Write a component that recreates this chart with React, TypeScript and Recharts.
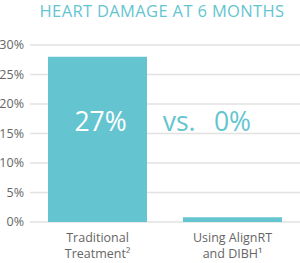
import React from 'react';
import { BarChart, Bar, XAxis, YAxis, CartesianGrid, ReferenceDot } from 'recharts';

const categories = ['Traditional|Treatment²', 'Using AlignRT|and DIBH¹'];
const values = [28, 0.8];
const valueLabels = ['27%', '0%'];
const yTicks = [0, 5, 10, 15, 20, 25, 30];
const title = 'HEART DAMAGE AT 6 MONTHS';
const vsText = 'vs.';
const labelLevel = 17;

const data = categories.map((c, i) => ({ name: c, value: values[i] }));

const TEAL = '#64c5d1';
const FONT = '"Open Sans", sans-serif';

const XTick = (props: any) => {
  const { x, y, payload } = props;
  const lines = String(payload.value).split('|');
  return (
    <g transform={`translate(${x},${y})`}>
      {lines.map((l, i) => (
        <text key={i} x={0} y={12 + i * 15.5} textAnchor="middle" fill="#666" fontSize={12.5} fontFamily={FONT}>
          {l}
        </text>
      ))}
    </g>
  );
};

const BigLabel = (props: any) => {
  const { viewBox, value, fill, withVs } = props;
  const cx = viewBox.x + (viewBox.width || 0) / 2;
  const cy = viewBox.y + (viewBox.height || 0) / 2;
  return (
    <g>
      {withVs && (
        <text x={cx - 37} y={cy + 9} textAnchor="end" fill={TEAL} fontSize={26.5} fontFamily={FONT}>
          {vsText}
        </text>
      )}
      <text x={cx + (withVs ? 0 : 3)} y={cy + 9} textAnchor="middle" fill={fill} fontSize={26.5} fontFamily={FONT}>
        {value}
      </text>
    </g>
  );
};

export default function App() {
  return (
    <div style={{ position: 'absolute', left: 0, top: 0, width: 300, height: 263 }}>
      <BarChart width={300} height={263} data={data} margin={{ top: 45, right: 0, bottom: 0, left: 0 }} barCategoryGap={18}>
        <CartesianGrid vertical={false} stroke="#e2e2e2" strokeWidth={1.5} />
        <XAxis dataKey="name" axisLine={false} tickLine={false} tick={<XTick />} interval={0} height={41} />
        <YAxis
          domain={[0, 30]}
          ticks={yTicks}
          width={30}
          axisLine={false}
          tickLine={false}
          tickFormatter={(v: number) => `${v}%`}
          tick={{ fill: '#666', fontSize: 12.5, fontFamily: FONT }}
          tickMargin={0}
        />
        <Bar dataKey="value" fill={TEAL} isAnimationActive={false} />
        <ReferenceDot
          x={categories[0]}
          y={labelLevel}
          r={0}
          isFront
          label={<BigLabel value={valueLabels[0]} fill="#ffffff" />}
        />
        <ReferenceDot
          x={categories[1]}
          y={labelLevel}
          r={0}
          isFront
          label={<BigLabel value={valueLabels[1]} fill={TEAL} withVs />}
        />
      </BarChart>
      <div
        style={{
          position: 'absolute',
          left: 12,
          top: 0,
          width: 300,
          textAlign: 'center',
          fontFamily: FONT,
          fontSize: 16.5,
          color: TEAL,
          lineHeight: '21px',
          letterSpacing: 0.35,
        }}
      >
        {title}
      </div>
    </div>
  );
}
